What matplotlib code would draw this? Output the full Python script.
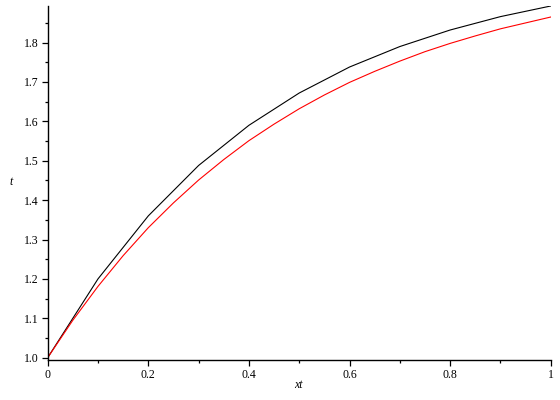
import matplotlib
matplotlib.use("Agg")
import matplotlib.pyplot as plt
from matplotlib.ticker import MultipleLocator, FixedLocator

# Black curve (piecewise, knots every 0.1)
x_black = [0.0, 0.1, 0.2, 0.3, 0.4, 0.5, 0.6, 0.7, 0.8, 0.9, 1.0]
y_black = [1.000, 1.200, 1.360, 1.488, 1.590, 1.672, 1.738, 1.790, 1.832, 1.866, 1.893]

# Red curve (smooth)
x_red = [0.0, 0.05, 0.1, 0.15, 0.2, 0.25, 0.3, 0.35, 0.4, 0.45, 0.5,
         0.55, 0.6, 0.65, 0.7, 0.75, 0.8, 0.85, 0.9, 0.95, 1.0]
y_red = [1.000, 1.095, 1.181, 1.259, 1.330, 1.393, 1.451, 1.503, 1.551, 1.593, 1.632,
         1.667, 1.699, 1.727, 1.753, 1.777, 1.798, 1.817, 1.835, 1.850, 1.865]

x_ticks = [0, 0.2, 0.4, 0.6, 0.8, 1]
x_ticklabels = ["0", "0.2", "0.4", "0.6", "0.8", "1"]
y_ticks = [1.0, 1.1, 1.2, 1.3, 1.4, 1.5, 1.6, 1.7, 1.8]
y_ticklabels = ["1.0", "1.1", "1.2", "1.3", "1.4", "1.5", "1.6", "1.7", "1.8"]

fig = plt.figure(figsize=(5.6, 4.0), dpi=100)
ax = fig.add_axes([47.7 / 560, 0.1, (550.7 - 47.7) / 560, 0.885])

ax.plot(x_black, y_black, color="black", lw=0.8)
ax.plot(x_red, y_red, color="red", lw=0.8)

ax.set_xlim(0, 1)
ax.set_ylim(0.994, 1.893)

for s in ["top", "right"]:
    ax.spines[s].set_visible(False)
for s in ["left", "bottom"]:
    ax.spines[s].set_linewidth(1.0)

font = dict(family="Liberation Serif", size=8.5)
ax.set_xticks(x_ticks)
ax.set_xticklabels(x_ticklabels, fontdict=font)
ax.set_yticks(y_ticks)
ax.set_yticklabels(y_ticklabels, fontdict=font)
ax.xaxis.set_minor_locator(MultipleLocator(0.1))
ax.yaxis.set_minor_locator(MultipleLocator(0.05))
ax.tick_params(which="major", length=4.5, width=0.9, direction="out", pad=2)
ax.tick_params(which="minor", length=2.2, width=0.9, direction="out")

fig.text(11 / 560, 1 - 182 / 400, "t", fontsize=8.5, family="Liberation Serif",
         style="italic", ha="center", va="center")
fig.text(298 / 560, 1 - 385 / 400, "xt", fontsize=8.5, family="Liberation Serif",
         style="italic", ha="center", va="center")

fig.savefig("out.png", dpi=100)
